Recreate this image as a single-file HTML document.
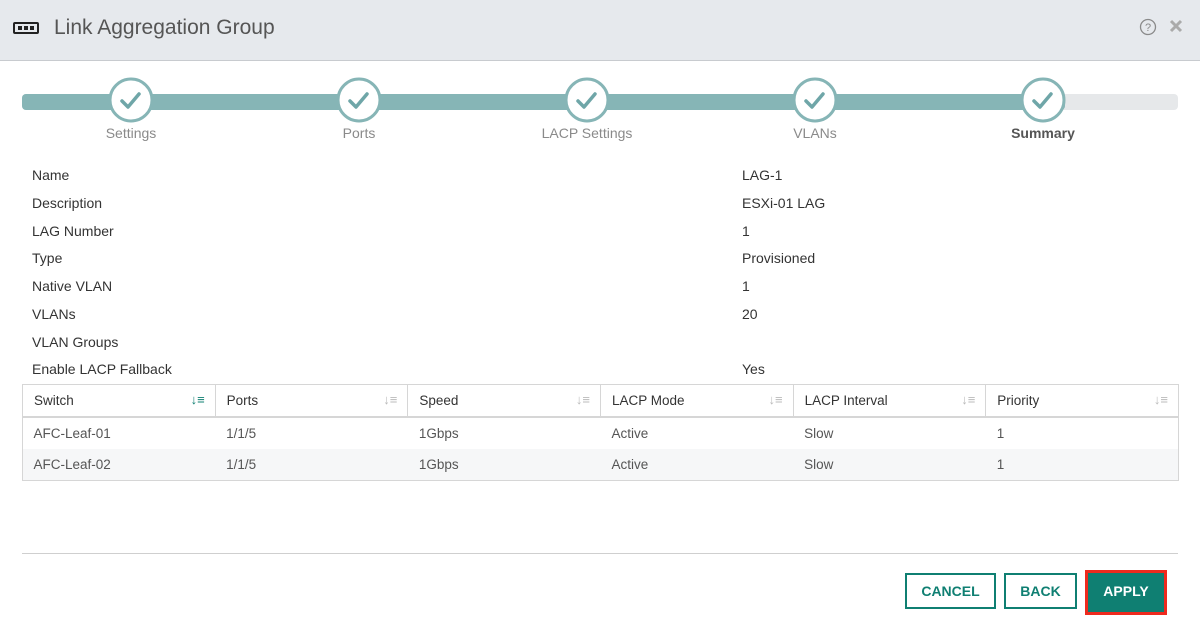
<!DOCTYPE html>
<html><head><style>
body{margin:0;width:1200px;height:628px;background:#fff;font-family:"Liberation Sans",sans-serif;position:relative;overflow:hidden}
.hdr{position:absolute;left:0;top:0;width:1200px;height:60px;background:#e6e9ed;border-bottom:1px solid #c8cbcf}
.t{position:absolute;white-space:nowrap}
.lbl{font-size:14px;color:#8a8a8a;transform:translateX(-50%);top:125px}
.row{font-size:14px;color:#333}
table{position:absolute;left:22px;top:384px;width:1157px;border-collapse:collapse;font-size:13.5px;table-layout:fixed}
th,td{text-align:left;padding:0 0 0 11px;position:relative}
th{height:31px;font-weight:normal;color:#333;border:1px solid #d6d6d6;border-bottom:2px solid #d6d6d6;background:#fff}
td{height:31px;color:#555}
tr.r1 td{background:#fff}
tr.r2 td{background:#f6f7f8}
.tbl-border{position:absolute;left:22px;top:384px;width:1155px;height:95px;border:1px solid #d6d6d6;pointer-events:none}
.sort{position:absolute;right:10px;top:7px;font-size:13px;color:#bbb}
.btn{position:absolute;top:573px;height:36px;border:2px solid #0f7f72;color:#0f7f72;font-weight:bold;font-size:14px;display:flex;align-items:center;justify-content:center;box-sizing:border-box}
</style></head><body>
<div class="hdr"></div>
<svg style="position:absolute;left:13px;top:22px" width="26" height="12"><rect x="1" y="1" width="24" height="10" rx="1" fill="none" stroke="#222" stroke-width="2"/><rect x="5" y="4" width="4" height="4" fill="#222"/><rect x="11" y="4" width="4" height="4" fill="#222"/><rect x="17" y="4" width="4" height="4" fill="#222"/></svg>
<div class="t" style="left:54px;top:16px;font-size:21px;color:#555">Link Aggregation Group</div>
<svg style="position:absolute;left:1138px;top:17px" width="50" height="20"><circle cx="10" cy="10" r="7.5" fill="none" stroke="#8a8a8a" stroke-width="1.3"/><text x="10" y="14" font-size="11" text-anchor="middle" fill="#8a8a8a" font-family="Liberation Sans">?</text><path d="M33 4 L43 14 M43 4 L33 14" stroke="#aaa" stroke-width="3"/></svg>
<svg style="position:absolute;left:0;top:70px" width="1200" height="60">
<rect x="22" y="24" width="1156" height="16" rx="4" fill="#e6e8ea"/>
<rect x="22" y="24" width="1043" height="16" rx="4" fill="#86b5b6"/>
<g fill="#fff" stroke="#86b5b6" stroke-width="3">
<circle cx="131" cy="30" r="21"/><circle cx="359" cy="30" r="21"/><circle cx="587" cy="30" r="21"/><circle cx="815" cy="30" r="21"/><circle cx="1043" cy="30" r="21"/></g>
<g fill="none" stroke="#6fa6a8" stroke-width="3.5" stroke-linecap="round" stroke-linejoin="round">
<path d="M122 31 l6 6 l11 -13"/><path d="M350 31 l6 6 l11 -13"/><path d="M578 31 l6 6 l11 -13"/><path d="M806 31 l6 6 l11 -13"/><path d="M1034 31 l6 6 l11 -13"/></g>
</svg>
<div class="t lbl" style="left:131px">Settings</div>
<div class="t lbl" style="left:359px">Ports</div>
<div class="t lbl" style="left:587px">LACP Settings</div>
<div class="t lbl" style="left:815px">VLANs</div>
<div class="t lbl" style="left:1043px;font-weight:bold;color:#555">Summary</div>
<div class="t row" style="left:32px;top:167px">Name</div><div class="t row" style="left:742px;top:167px">LAG-1</div>
<div class="t row" style="left:32px;top:195px">Description</div><div class="t row" style="left:742px;top:195px">ESXi-01 LAG</div>
<div class="t row" style="left:32px;top:223px">LAG Number</div><div class="t row" style="left:742px;top:223px">1</div>
<div class="t row" style="left:32px;top:250px">Type</div><div class="t row" style="left:742px;top:250px">Provisioned</div>
<div class="t row" style="left:32px;top:278px">Native VLAN</div><div class="t row" style="left:742px;top:278px">1</div>
<div class="t row" style="left:32px;top:306px">VLANs</div><div class="t row" style="left:742px;top:306px">20</div>
<div class="t row" style="left:32px;top:334px">VLAN Groups</div>
<div class="t row" style="left:32px;top:361px">Enable LACP Fallback</div><div class="t row" style="left:742px;top:361px">Yes</div>
<table>
<tr><th>Switch<span class="sort" style="color:#0f7f72">↓≡</span></th><th>Ports<span class="sort">↓≡</span></th><th>Speed<span class="sort">↓≡</span></th><th>LACP Mode<span class="sort">↓≡</span></th><th>LACP Interval<span class="sort">↓≡</span></th><th>Priority<span class="sort">↓≡</span></th></tr>
<tr class="r1"><td>AFC-Leaf-01</td><td>1/1/5</td><td>1Gbps</td><td>Active</td><td>Slow</td><td>1</td></tr>
<tr class="r2"><td>AFC-Leaf-02</td><td>1/1/5</td><td>1Gbps</td><td>Active</td><td>Slow</td><td>1</td></tr>
</table>
<div class="tbl-border"></div>
<div style="position:absolute;left:22px;top:553px;width:1156px;height:1px;background:#cfcfcf"></div>
<div class="btn" style="left:905px;width:91px">CANCEL</div>
<div class="btn" style="left:1004px;width:73px">BACK</div>
<div style="position:absolute;left:1085px;top:570px;width:82px;height:45px;background:#ee2a1e"></div>
<div class="btn" style="left:1088px;top:573px;width:76px;height:39px;background:#0f7f72;color:#fff;border-color:#0f7f72;padding-bottom:3px">APPLY</div>
</body></html>
